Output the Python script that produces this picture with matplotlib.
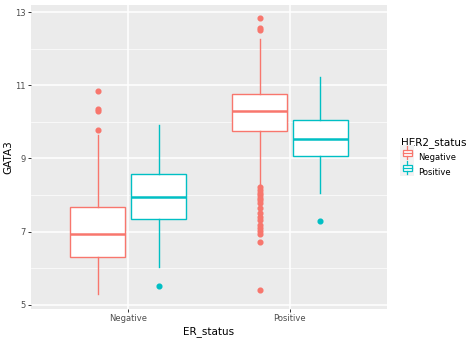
import matplotlib
matplotlib.use("Agg")
import matplotlib.pyplot as plt
from matplotlib.legend_handler import HandlerBase
from matplotlib.patches import Rectangle
from matplotlib.lines import Line2D

ER_LEVELS = ["Negative", "Positive"]
HER2_LEVELS = ["Negative", "Positive"]
COLORS = {"Negative": "#F8766D", "Positive": "#00BFC4"}

# box stats: (ER, HER2) -> whislo, q1, med, q3, whishi
STATS = {
    ("Negative", "Negative"): (5.29, 6.31, 6.93, 7.68, 9.65),
    ("Negative", "Positive"): (6.04, 7.34, 7.95, 8.57, 9.91),
    ("Positive", "Negative"): (8.25, 9.75, 10.30, 10.75, 12.26),
    ("Positive", "Positive"): (8.06, 9.07, 9.53, 10.04, 11.22),
}
OUTLIERS = {
    ("Negative", "Negative"): [10.84, 10.36, 10.30, 9.78],
    ("Negative", "Positive"): [5.51],
    ("Positive", "Negative"): [12.83, 12.57, 12.51, 8.21, 8.13, 8.06, 8.00,
                               7.93, 7.86, 7.77, 7.66, 7.50, 7.41, 7.32,
                               7.18, 7.09, 7.02, 6.95, 6.71, 5.40],
    ("Positive", "Positive"): [7.30],
}


class BoxKey(HandlerBase):
    def __init__(self, color):
        super().__init__()
        self.color = color

    def create_artists(self, legend, orig, x0, y0, w, h, fontsize, trans):
        bg = Rectangle((x0 - 1, y0 - 2), w + 2, h + 4, facecolor="#F2F2F2",
                       edgecolor="none", transform=trans)
        cx = x0 + w / 2
        box = Rectangle((x0 + 1, y0 + h * 0.2), w - 2, h * 0.6,
                        facecolor="white", edgecolor=self.color, lw=0.9,
                        transform=trans)
        med = Line2D([x0 + 1, x0 + w - 1], [y0 + h / 2] * 2,
                     color=self.color, lw=0.9, transform=trans)
        w1 = Line2D([cx, cx], [y0 - 1, y0 + h * 0.2], color=self.color,
                    lw=0.9, transform=trans)
        w2 = Line2D([cx, cx], [y0 + h * 0.8, y0 + h + 1], color=self.color,
                    lw=0.9, transform=trans)
        return [bg, box, med, w1, w2]


def main():
    fig = plt.figure(figsize=(4.74, 3.38), dpi=100)
    ax = fig.add_axes([0.0654, 0.086, 0.7511, 0.899])
    ax.set_facecolor("#EBEBEB")

    offset = 0.188
    width = 0.34
    for i, er in enumerate(ER_LEVELS):
        for j, her2 in enumerate(HER2_LEVELS):
            lo, q1, med, q3, hi = STATS[(er, her2)]
            col = COLORS[her2]
            pos = i + 1 + (offset if j else -offset)
            stats = [dict(whislo=lo, q1=q1, med=med, q3=q3, whishi=hi,
                          fliers=OUTLIERS[(er, her2)])]
            ax.bxp(stats, positions=[pos], widths=width, patch_artist=True,
                   showcaps=False,
                   boxprops=dict(facecolor="white", edgecolor=col, lw=1.0),
                   medianprops=dict(color=col, lw=1.8),
                   whiskerprops=dict(color=col, lw=1.0),
                   flierprops=dict(marker="o", markersize=3.4,
                                   markerfacecolor=col, markeredgecolor=col),
                   zorder=3)

    ax.set_xlim(0.4, 2.6)
    ax.set_ylim(4.89, 13.19)
    ax.set_xticks([1, 2])
    ax.set_xticklabels(ER_LEVELS)
    ax.set_yticks([5, 7, 9, 11, 13])
    ax.set_yticks([6, 8, 10, 12], minor=True)
    ax.grid(True, which="major", color="white", lw=1.1, zorder=0)
    ax.grid(True, which="minor", axis="y", color="white", lw=0.5, zorder=0)
    ax.set_axisbelow(True)
    ax.tick_params(which="major", length=2.2, width=0.7, color="#333333",
                   labelsize=6, labelcolor="#4D4D4D", pad=1.5)
    ax.tick_params(which="minor", length=0)
    for s in ax.spines.values():
        s.set_visible(False)

    ax.set_xlabel("ER_status", fontsize=7.5, color="black", labelpad=2)
    ax.set_ylabel("GATA3", fontsize=7.5, color="black", labelpad=1.5)

    handles = [Rectangle((0, 0), 1, 1) for _ in HER2_LEVELS]
    leg = fig.legend(handles, HER2_LEVELS, title="HER2_status",
                     handler_map={h: BoxKey(COLORS[l])
                                  for h, l in zip(handles, HER2_LEVELS)},
                     loc="upper left", bbox_to_anchor=(0.838, 0.607),
                     frameon=False, fontsize=6, title_fontsize=7.5,
                     handlelength=1.4, handleheight=1.5, handletextpad=0.6,
                     labelspacing=0.55, alignment="left", borderpad=0)
    for t in leg.get_texts():
        t.set_color("black")

    fig.savefig("out.png", dpi=100, facecolor="white")


if __name__ == "__main__":
    main()
